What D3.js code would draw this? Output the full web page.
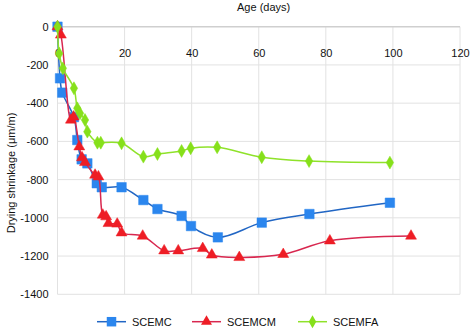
<!DOCTYPE html>
<html>
<head>
<meta charset="utf-8">
<script src="https://cdn.jsdelivr.net/npm/d3@7"></script>
<style>
  html, body { margin: 0; padding: 0; background: #fff; }
  svg { display: block; }
  text { font-family: "Liberation Sans", Arial, Helvetica, sans-serif; fill: #111; }
</style>
</head>
<body>
<svg id="chart" width="474" height="332"></svg>
<script>
// Drying shrinkage (µm/m) versus age (days) for three mixes
const xTicks = [0, 20, 40, 60, 80, 100, 120];
const yTicks = [0, -200, -400, -600, -800, -1000, -1200, -1400];

const scemcAge = [0, 0.75, 1.4, 4.9, 5.9, 7.2, 8.9, 11.7, 13.2, 19.1, 25.6, 29.8, 37.0, 39.8, 47.8, 60.9, 75.1, 99.1];
const scemcVal = [0, -270, -345, -473, -593, -694, -715, -819, -840, -840, -907, -954, -990, -1043, -1102, -1025, -980, -921];

const scemcmAge = [0, 1.0, 4.0, 4.8, 6.5, 7.3, 8.2, 11.2, 12.2, 13.5, 14.5, 15.2, 17.8, 19.1, 25.4, 31.8, 36.0, 43.3, 46.0, 54.2, 67.3, 81.2, 105.4];
const scemcmVal = [0, -43, -488, -472, -628, -685, -710, -776, -785, -985, -994, -1029, -1032, -1078, -1095, -1172, -1172, -1160, -1194, -1207, -1191, -1120, -1095];

const scemfaAge = [0, 0.5, 1.6, 4.9, 5.9, 6.7, 8.2, 8.9, 11.9, 12.9, 19.1, 25.6, 29.8, 37.0, 39.7, 47.6, 60.9, 75.0, 99.1];
const scemfaVal = [0, -140, -218, -322, -427, -453, -488, -549, -607, -607, -610, -680, -666, -650, -636, -631, -683, -703, -711];

const seriesNames = ["SCEMC", "SCEMCM", "SCEMFA"];

const series = [
  { name: seriesNames[0], ages: scemcAge, vals: scemcVal, line: "#2166c4", fill: "#2b86ee", shape: d3.symbolSquare, size: 90 },
  { name: seriesNames[1], ages: scemcmAge, vals: scemcmVal, line: "#d8274f", fill: "#ee1d25", shape: d3.symbolTriangle, size: 52 },
  { name: seriesNames[2], ages: scemfaAge, vals: scemfaVal, line: "#8fe22a", fill: "#86e01a", shape: d3.symbolDiamond, size: 48 }
];

const svg = d3.select("#chart");
const plotL = 57.5, plotR = 460, plotT = 26.7, plotB = 294.3;

const x = d3.scaleLinear().domain([0, 120]).range([plotL, plotR]);
const y = d3.scaleLinear().domain([0, -1400]).range([plotT, plotB]);

// gridlines
const grid = svg.append("g");
grid.selectAll("line.v").data(xTicks).join("line")
  .attr("class", "v")
  .attr("x1", d => x(d)).attr("x2", d => x(d))
  .attr("y1", plotT).attr("y2", plotB)
  .attr("stroke", "#e2e2e2").attr("stroke-width", 1);
grid.selectAll("line.h").data(yTicks).join("line")
  .attr("class", "h")
  .attr("x1", plotL).attr("x2", plotR)
  .attr("y1", d => y(d)).attr("y2", d => y(d))
  .attr("stroke", d => d === 0 ? "#cfcfcf" : "#e2e2e2")
  .attr("stroke-width", d => d === 0 ? 1.5 : 1);

const plain = d => String(d);

// x axis labels sit just under the zero line
const xAxis = d3.axisTop(x).tickValues(xTicks).tickFormat(plain).tickSize(0).tickPadding(0);
svg.append("g")
  .attr("transform", `translate(0,${y(0) + 30})`)
  .call(xAxis)
  .call(g => g.select(".domain").remove())
  .call(g => g.selectAll("text").attr("font-size", 11).attr("fill", "#111")
    .attr("font-family", "'Liberation Sans', Arial, sans-serif"));

const yAxis = d3.axisLeft(y).tickValues(yTicks).tickFormat(plain).tickSize(0).tickPadding(9);
svg.append("g")
  .attr("transform", `translate(${plotL},0)`)
  .call(yAxis)
  .call(g => g.select(".domain").remove())
  .call(g => g.selectAll("text").attr("font-size", 11).attr("fill", "#111")
    .attr("font-family", "'Liberation Sans', Arial, sans-serif"));

svg.append("text")
  .attr("x", 237).attr("y", 11)
  .attr("font-size", 11)
  .text("Age (days)");

svg.append("text")
  .attr("transform", "translate(15,173) rotate(-90)")
  .attr("text-anchor", "middle")
  .attr("font-size", 11)
  .text("Drying shrinkage (μm/m)");

// series lines and markers
const line = d3.line()
  .x(d => x(d[0]))
  .y(d => y(d[1]))
  .curve(d3.curveCatmullRom.alpha(0.5));

series.forEach(s => {
  const pts = s.ages.map((a, i) => [a, s.vals[i]]);
  svg.append("path")
    .datum(pts)
    .attr("d", line)
    .attr("fill", "none")
    .attr("stroke", s.line)
    .attr("stroke-width", 1.5);
  svg.append("g").selectAll("path").data(pts).join("path")
    .attr("transform", d => `translate(${x(d[0])},${y(d[1])})`)
    .attr("d", d3.symbol(s.shape, s.size))
    .attr("fill", s.fill)
    .attr("stroke", s.fill)
    .attr("stroke-width", 0.5);
});

// legend
const legendX = [97, 192, 298];
const legendY = 321.7;
series.forEach((s, i) => {
  const g = svg.append("g").attr("transform", `translate(${legendX[i]},${legendY})`);
  g.append("line").attr("x1", 0).attr("x2", 29).attr("y1", 0).attr("y2", 0)
    .attr("stroke", s.line).attr("stroke-width", 1.5);
  g.append("path").attr("transform", "translate(14.5,0)")
    .attr("d", d3.symbol(s.shape, s.size))
    .attr("fill", s.fill);
  g.append("text").attr("x", 35).attr("y", 4).attr("font-size", 11).text(s.name);
});
</script>
</body>
</html>
